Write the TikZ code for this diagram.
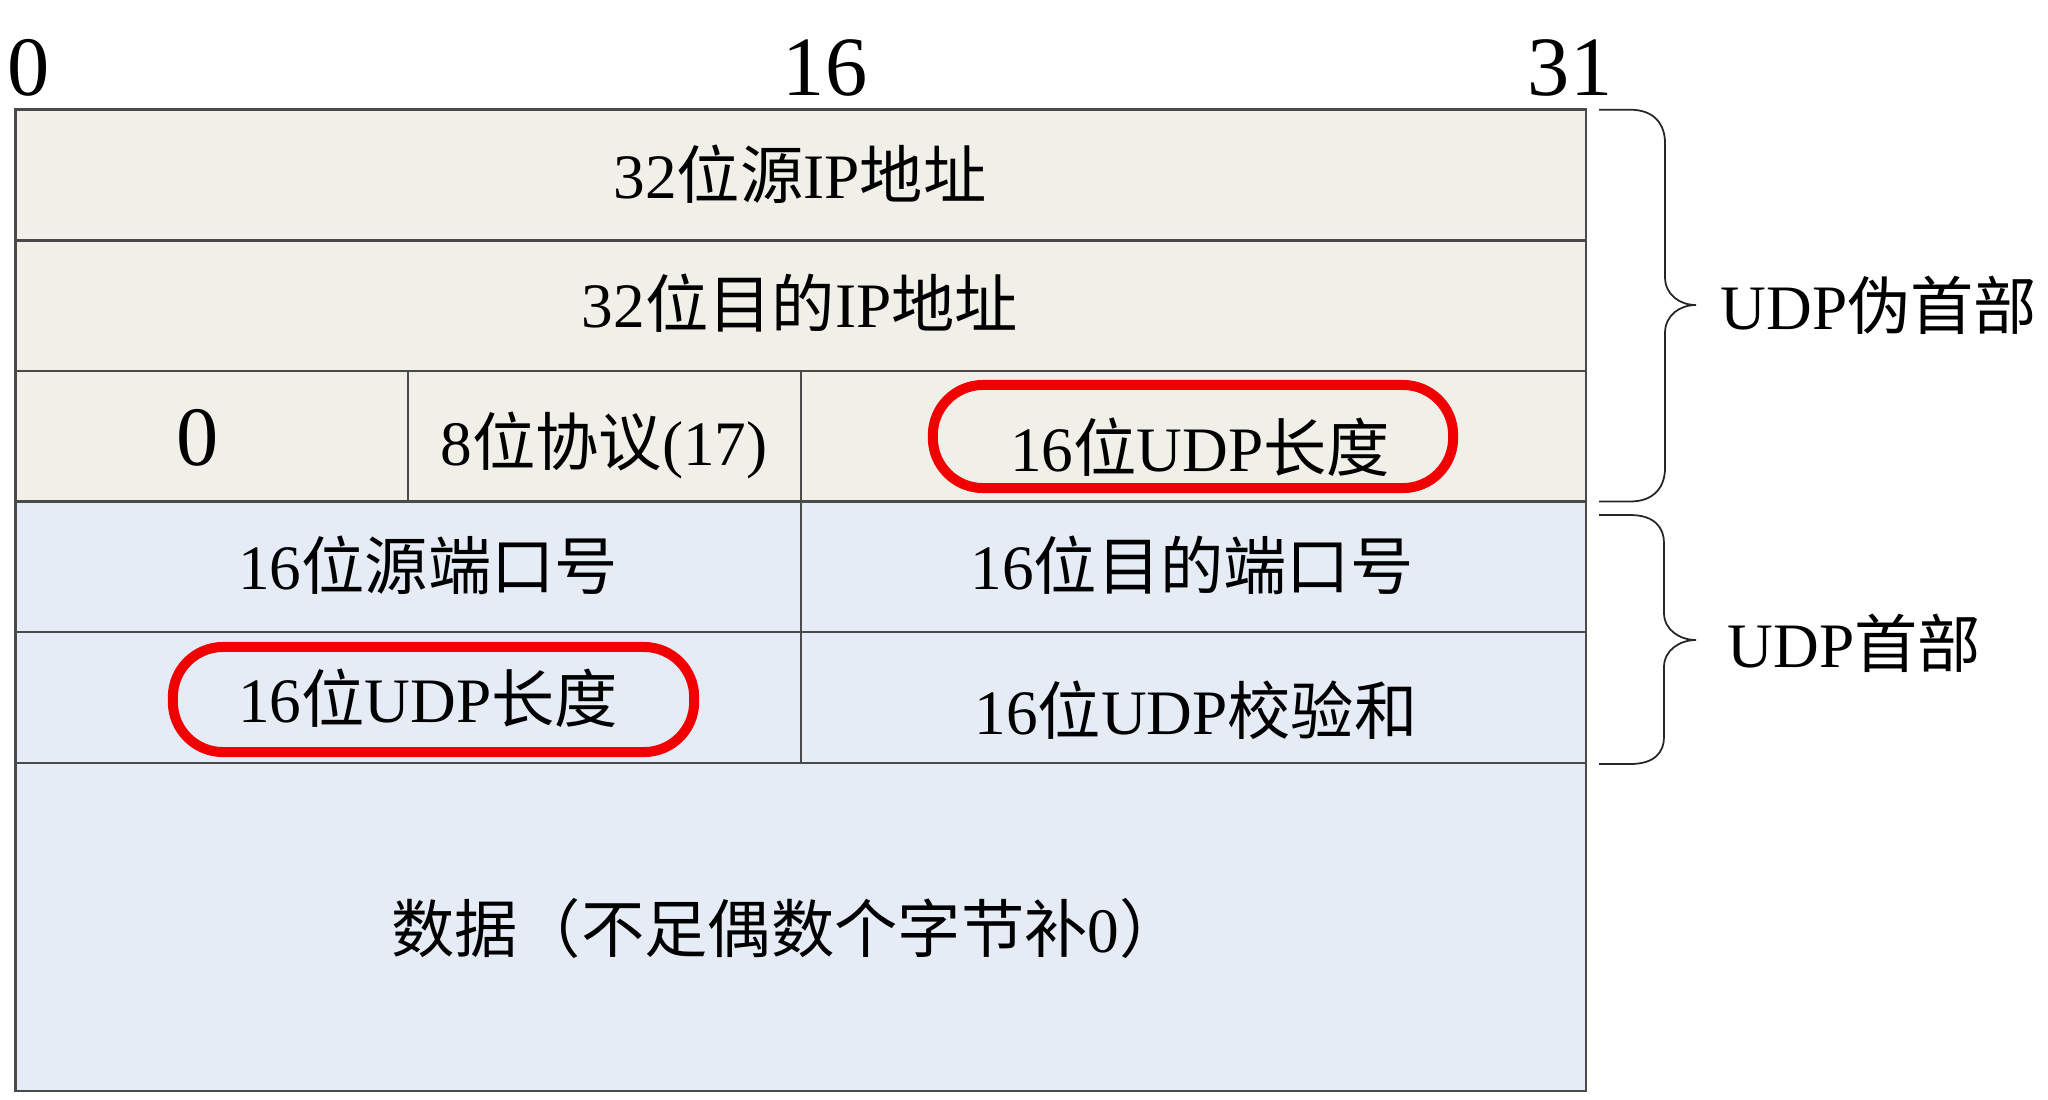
\documentclass[tikz,border=0pt]{standalone}
\usepackage{fontspec}
\setmainfont{Liberation Serif}
\newfontfamily\cjk{Noto Sans CJK SC}
\newcommand\zh[1]{{\cjk #1}}
\definecolor{pseudoGray}{HTML}{F0F0E9}
\definecolor{headerBlue}{HTML}{E6ECF6}
\definecolor{ringRed}{HTML}{F00000}
\definecolor{gridGray}{HTML}{4A4A4A}
\tikzstyle{cellText} = [
 font=\fontsize{18}{20}\selectfont,
 inner sep=0pt
]
\tikzstyle{bigNum} = [
 font=\fontsize{24}{26}\selectfont,
 inner sep=0pt
]
\tikzstyle{redRing} = [
 rectangle,
 draw=ringRed,
 line width=0.1cm,
 rounded corners=0.5cm,
 inner sep=0pt
]
\tikzstyle{gridLine} = [draw=gridGray, line width=0.7pt]
\tikzstyle{braceLine} = [draw=black!85, line width=0.5pt]

\begin{document}
\begin{tikzpicture}[x=0.01cm, y=-0.01cm]
  \useasboundingbox (0,0) rectangle (2048,1099);

  \fill[pseudoGray] (15.5,109.7) rectangle (1586,501.5);
  \fill[headerBlue] (15.5,501.5) rectangle (1586,1091);

  \draw[gridLine] (15.5,109.7) rectangle (1586,1091);
  \foreach \y in {240.3, 370.9, 501.5, 632.1, 762.8}
    \draw[gridLine] (15.5,\y) -- (1586,\y);
  \draw[gridLine] (408,370.9) -- (408,501.5);
  \draw[gridLine] (801,370.9) -- (801,762.8);

  \node [bigNum] (bit0) at (29,68) {0};
  \node [bigNum] (bit16) at (825,68) {16};
  \node [bigNum] (bit31) at (1570,68) {31};

  \node [cellText] (srcIP) at (800,174) {32\zh{位源}IP\zh{地址}};
  \node [cellText] (dstIP) at (800,303) {32\zh{位目的}IP\zh{地址}};
  \node [bigNum] (zero) at (198,438) {0};
  \node [cellText] (proto) at (604,445) {8\zh{位协议}(17)};
  \node [cellText] (lenA) at (1200,447) {16\zh{位}UDP\zh{长度}};
  \node [redRing, minimum width=5.2cm, minimum height=1.03cm] (lenRingA) at (1193,436.5) {};

  \node [cellText] (srcPort) at (428,565) {16\zh{位源端口号}};
  \node [cellText] (dstPort) at (1192,565) {16\zh{位目的端口号}};
  \node [cellText] (lenB) at (428,698) {16\zh{位}UDP\zh{长度}};
  \node [redRing, minimum width=5.21cm, minimum height=1.05cm] (lenRingB) at (433.5,699.5) {};
  \node [cellText] (checksum) at (1196,710) {16\zh{位}UDP\zh{校验和}};

  \node [cellText] (payload) at (787,928) {\zh{数据（不足偶数个字节补}0\zh{）}};

  \draw[braceLine] (1599,109.7) -- (1630,109.7)
    .. controls (1655,109.7) and (1665,125) .. (1665,143) -- (1665,277)
    .. controls (1665,295) and (1680,305) .. (1696,305)
    .. controls (1680,305) and (1665,315) .. (1665,333) -- (1665,468)
    .. controls (1665,486) and (1655,501.5) .. (1630,501.5) -- (1599,501.5);
  \node [cellText, anchor=west] (pseudoLabel) at (1720,305) {UDP\zh{伪首部}};

  \draw[braceLine] (1599,515) -- (1630,515)
    .. controls (1655,515) and (1664,528) .. (1664,543) -- (1664,613)
    .. controls (1664,630) and (1680,640) .. (1696,640)
    .. controls (1680,640) and (1664,650) .. (1664,667) -- (1664,737)
    .. controls (1664,752) and (1655,764) .. (1630,764) -- (1599,764);
  \node [cellText, anchor=west] (headerLabel) at (1727,643) {UDP\zh{首部}};
\end{tikzpicture}
\end{document}
